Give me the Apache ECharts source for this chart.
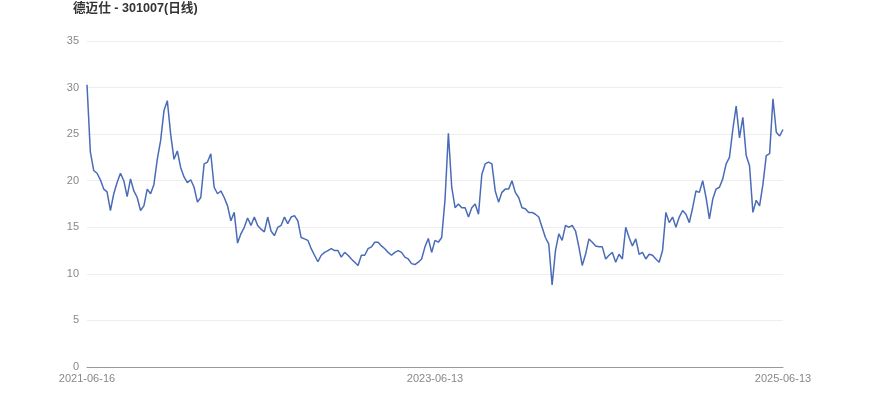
<!DOCTYPE html>
<html>
<head>
<meta charset="utf-8">
<script src="https://cdn.jsdelivr.net/npm/echarts@6/dist/echarts.min.js"></script>
<style>
html,body{margin:0;padding:0;background:#fff;}
#c{width:870px;height:417px;}
</style>
</head>
<body>
<div id="c"></div>
<script>
var titleText = '德迈仕 - 301007(日线)';
var tickLabels = ['2021-06-16', '2023-06-13', '2025-06-13'];
var dates = [
'2021-06-16','2021-06-23','2021-06-30','2021-07-07','2021-07-14','2021-07-21','2021-07-28','2021-08-04','2021-08-11','2021-08-18','2021-08-25','2021-09-01','2021-09-08','2021-09-15','2021-09-22','2021-09-29','2021-10-06','2021-10-13','2021-10-20','2021-10-27','2021-11-03','2021-11-10','2021-11-17','2021-11-24','2021-12-01','2021-12-08','2021-12-15','2021-12-22','2021-12-29',
'2022-01-05','2022-01-12','2022-01-19','2022-01-26','2022-02-02','2022-02-09','2022-02-16','2022-02-23','2022-03-02','2022-03-09','2022-03-16','2022-03-23','2022-03-30','2022-04-06','2022-04-13','2022-04-20','2022-04-27','2022-05-04','2022-05-11','2022-05-18','2022-05-25','2022-06-01','2022-06-08','2022-06-15','2022-06-22','2022-06-29','2022-07-06','2022-07-13','2022-07-20','2022-07-27','2022-08-03','2022-08-10','2022-08-17','2022-08-24','2022-08-31','2022-09-07','2022-09-14','2022-09-21','2022-09-28','2022-10-05','2022-10-12','2022-10-19','2022-10-26','2022-11-02','2022-11-09','2022-11-16','2022-11-23','2022-11-30','2022-12-07','2022-12-14','2022-12-21','2022-12-28',
'2023-01-04','2023-01-11','2023-01-18','2023-01-25','2023-02-01','2023-02-08','2023-02-15','2023-02-22','2023-03-01','2023-03-08','2023-03-15','2023-03-22','2023-03-29','2023-04-05','2023-04-12','2023-04-19','2023-04-26','2023-05-03','2023-05-10','2023-05-17','2023-05-24','2023-05-31','2023-06-07','2023-06-13',
'2023-06-20','2023-06-27','2023-07-04','2023-07-11','2023-07-18','2023-07-25','2023-08-01','2023-08-08','2023-08-15','2023-08-22','2023-08-29','2023-09-05','2023-09-12','2023-09-19','2023-09-26','2023-10-03','2023-10-10','2023-10-17','2023-10-24','2023-10-31','2023-11-07','2023-11-14','2023-11-21','2023-11-28','2023-12-05','2023-12-12','2023-12-19','2023-12-26',
'2024-01-02','2024-01-09','2024-01-16','2024-01-23','2024-01-30','2024-02-06','2024-02-13','2024-02-20','2024-02-27','2024-03-05','2024-03-12','2024-03-19','2024-03-26','2024-04-02','2024-04-09','2024-04-16','2024-04-23','2024-04-30','2024-05-07','2024-05-14','2024-05-21','2024-05-28','2024-06-04','2024-06-11','2024-06-18','2024-06-25','2024-07-02','2024-07-09','2024-07-16','2024-07-23','2024-07-30','2024-08-06','2024-08-13','2024-08-20','2024-08-27','2024-09-03','2024-09-10','2024-09-17','2024-09-24','2024-10-01','2024-10-08','2024-10-15','2024-10-22','2024-10-29','2024-11-05','2024-11-12','2024-11-19','2024-11-26','2024-12-03','2024-12-10','2024-12-17','2024-12-24','2024-12-31',
'2025-01-07','2025-01-14','2025-01-21','2025-01-28','2025-02-04','2025-02-11','2025-02-18','2025-02-25','2025-03-04','2025-03-11','2025-03-18','2025-03-25','2025-04-01','2025-04-08','2025-04-15','2025-04-22','2025-04-29','2025-05-06','2025-05-13','2025-05-20','2025-05-27','2025-06-03','2025-06-13'
];
var closePrices = [
30.3,23.1,21.1,20.8,20.1,19.1,18.8,16.8,18.6,19.8,20.8,20.0,18.3,20.2,18.9,18.2,16.8,17.3,19.1,18.6,
19.6,22.3,24.3,27.5,28.6,25.0,22.3,23.2,21.4,20.4,19.8,20.1,19.3,17.7,18.2,21.8,22.0,22.9,19.3,18.6,
18.9,18.2,17.3,15.7,16.6,13.3,14.3,15.0,16.0,15.2,16.1,15.2,14.8,14.5,16.1,14.6,14.1,15.0,15.2,16.1,
15.4,16.1,16.25,15.7,13.9,13.75,13.6,12.7,12.0,11.3,12.0,12.3,12.5,12.7,12.5,12.5,11.8,12.3,12.0,11.6,
11.25,10.9,12.0,12.0,12.7,12.9,13.4,13.4,13.0,12.7,12.3,12.0,12.3,12.5,12.3,11.8,11.6,11.1,11.0,11.25,
11.6,12.9,13.8,12.3,13.6,13.4,13.9,18.0,25.1,19.3,17.1,17.5,17.1,17.1,16.1,17.1,17.5,16.4,20.7,21.8,
22.0,21.8,18.9,17.7,18.75,19.1,19.1,20.0,18.75,18.2,17.1,17.0,16.6,16.6,16.4,16.1,15.0,13.9,13.2,8.8,
12.5,14.3,13.6,15.2,15.0,15.2,14.6,12.9,10.9,12.1,13.75,13.4,13.0,12.9,12.9,11.6,12.0,12.3,11.25,12.1,
11.6,15.0,13.9,13.0,13.75,12.1,12.3,11.6,12.1,12.0,11.6,11.25,12.5,16.6,15.5,16.1,15.0,16.1,16.8,16.4,
15.5,17.1,18.9,18.75,20.0,18.2,15.9,18.0,19.1,19.3,20.2,21.8,22.5,25.5,28.0,24.6,26.8,22.7,21.6,16.6,
17.9,17.3,19.6,22.7,22.9,28.8,25.2,24.8,25.5
];

var chart = echarts.init(document.getElementById('c'), null, {renderer: 'canvas'});
var fontFam = "'Liberation Sans', Arial, 'Noto Sans CJK SC', sans-serif";
chart.setOption({
  animation: false,
  backgroundColor: '#ffffff',
  title: {
    text: titleText,
    left: 73,
    top: 2,
    padding: 0,
    textStyle: {fontSize: 12.6, fontWeight: 'bold', color: '#333333', fontFamily: fontFam}
  },
  grid: {left: 87, right: 87, top: 41, bottom: 50, containLabel: false},
  xAxis: {
    type: 'category',
    data: dates,
    boundaryGap: false,
    axisLine: {show: true, lineStyle: {color: '#999999', width: 1}},
    axisTick: {show: false},
    splitLine: {show: false},
    axisLabel: {
      color: '#888888',
      fontSize: 11,
      fontFamily: fontFam,
      margin: 6,
      showMinLabel: true,
      showMaxLabel: true,
      interval: function (idx, val) { return tickLabels.indexOf(val) >= 0; }
    }
  },
  yAxis: {
    type: 'value',
    min: 0,
    max: 35,
    interval: 5,
    axisLine: {show: false},
    axisTick: {show: false},
    splitLine: {show: true, lineStyle: {color: '#eeeeee', width: 1}},
    axisLabel: {color: '#888888', fontSize: 11, fontFamily: fontFam, margin: 8}
  },
  series: [{
    type: 'line',
    data: closePrices,
    showSymbol: false,
    symbol: 'none',
    lineStyle: {color: '#4a6bb8', width: 1.5},
    itemStyle: {color: '#4a6bb8'}
  }]
});
</script>
</body>
</html>
